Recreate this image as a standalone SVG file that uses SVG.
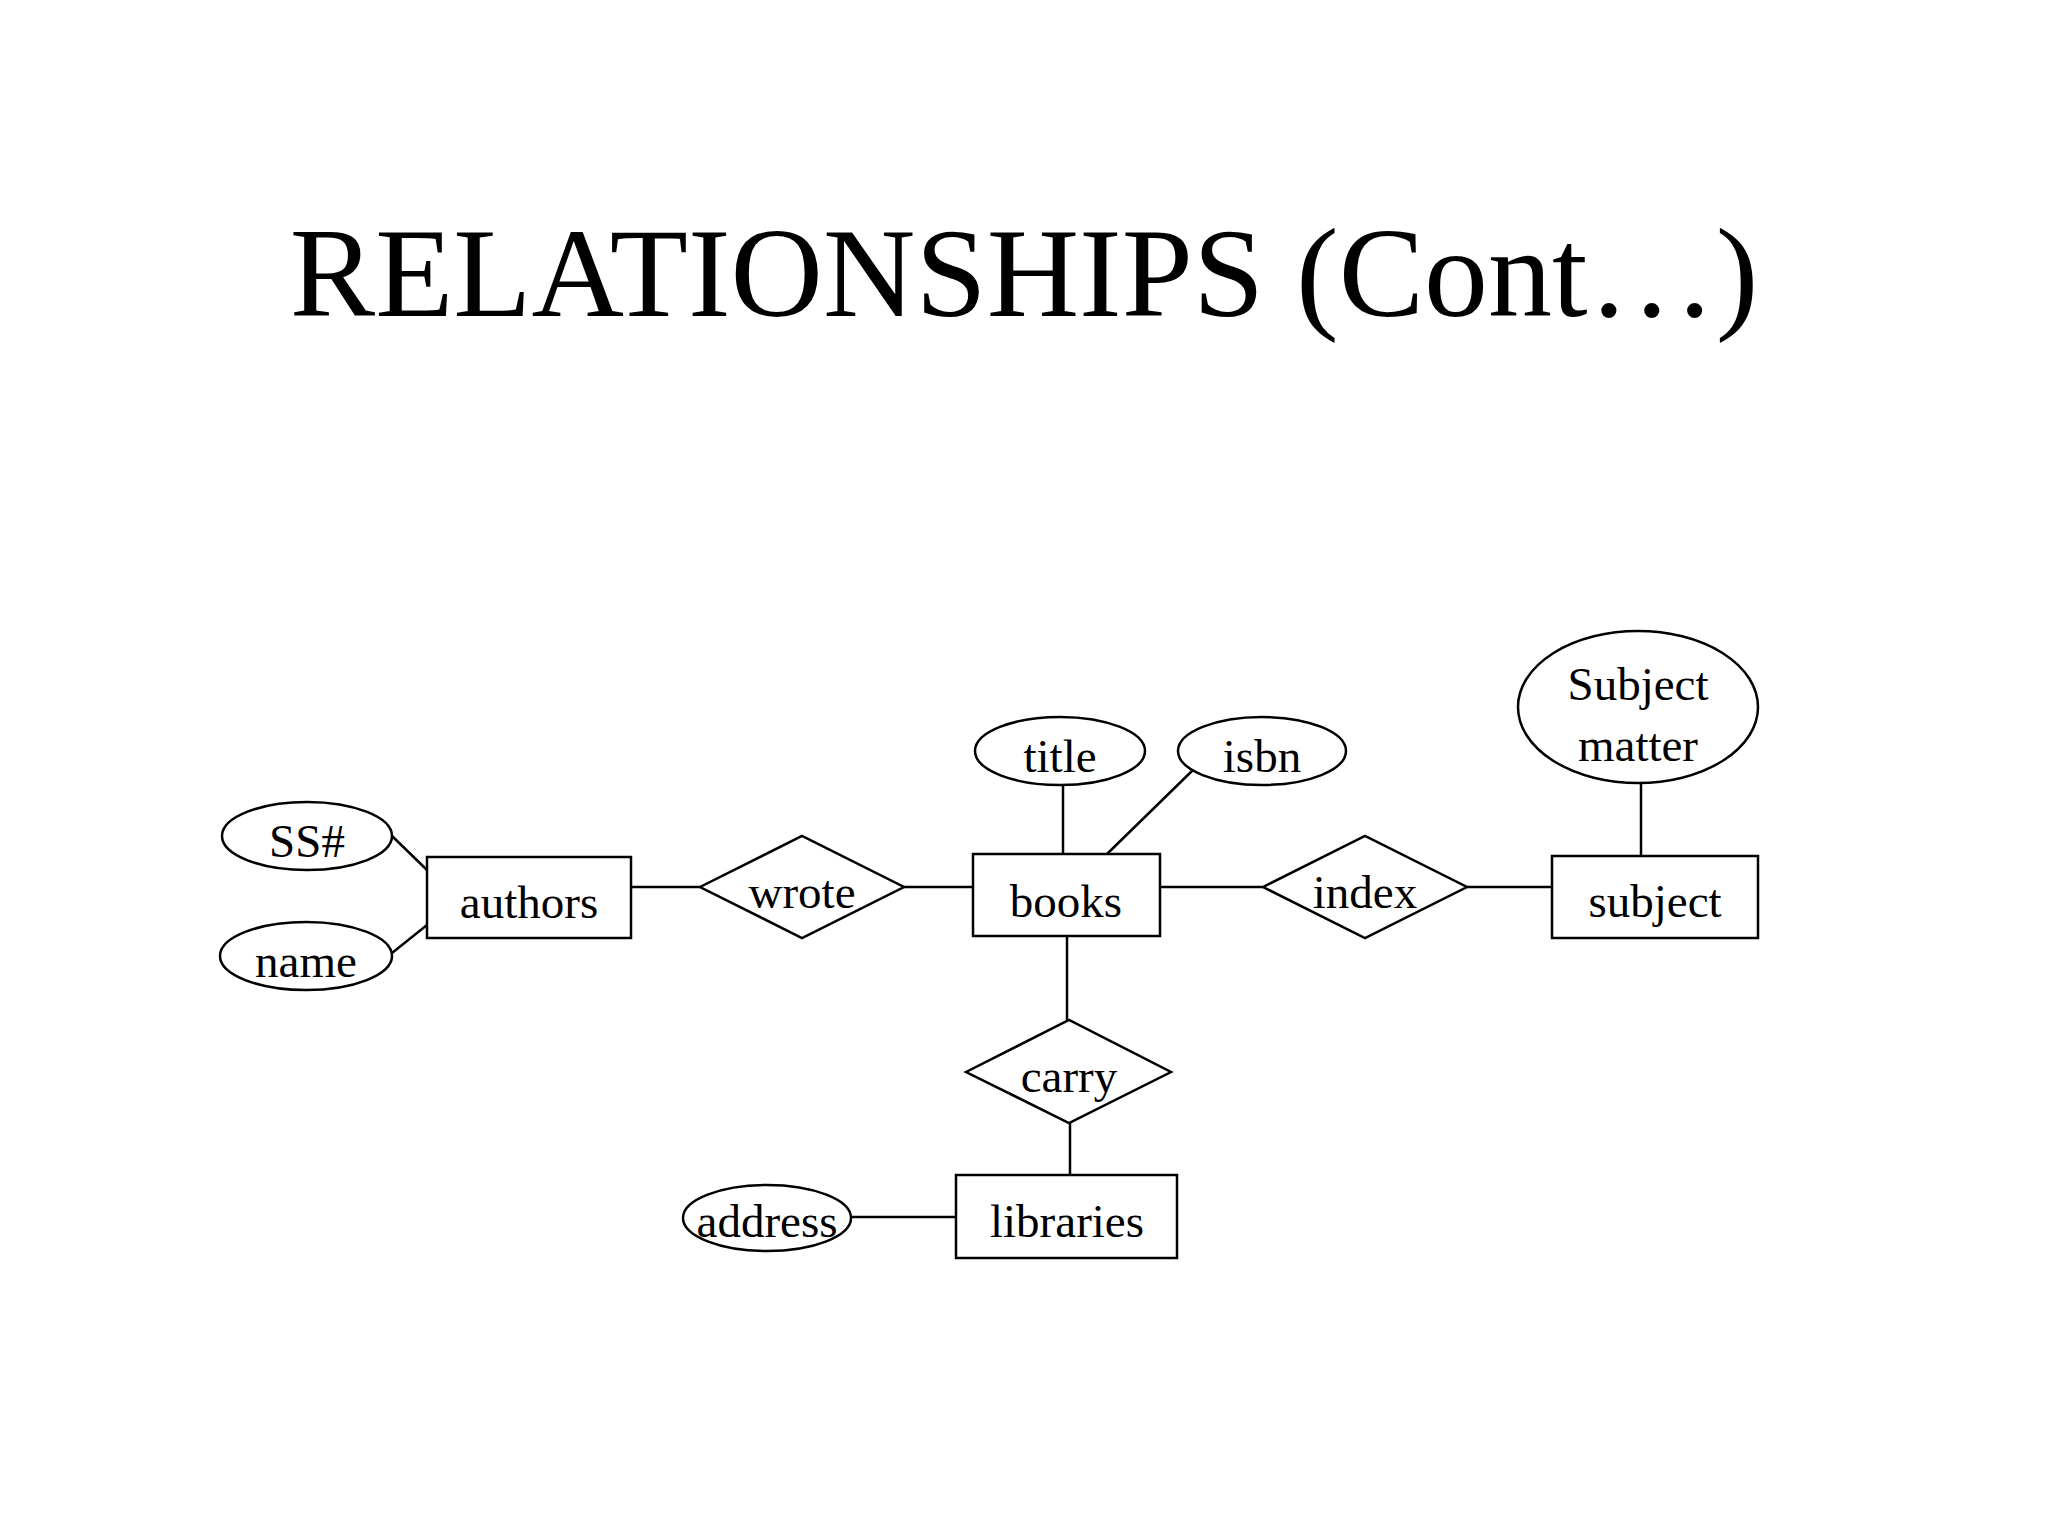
<svg xmlns="http://www.w3.org/2000/svg" width="2048" height="1536" viewBox="0 0 2048 1536">
<style>
.s{fill:#fff;stroke:#000;stroke-width:2.5}
.l{stroke:#000;stroke-width:2.5;fill:none}
text{font-family:"Liberation Serif","Times New Roman",serif;font-size:47px;text-anchor:middle;fill:#000}
</style>
<rect width="2048" height="1536" fill="#fff"/>
<text x="1024" y="316" style="font-size:128px">RELATIONSHIPS (Cont…)</text>
<g id="connectors">
<line class="l" x1="392" y1="836" x2="427" y2="870"/>
<line class="l" x1="392" y1="953" x2="427" y2="925"/>
<line class="l" x1="631" y1="887" x2="700" y2="887"/>
<line class="l" x1="904" y1="887" x2="973" y2="887"/>
<line class="l" x1="1160" y1="887" x2="1263" y2="887"/>
<line class="l" x1="1467" y1="887" x2="1552" y2="887"/>
<line class="l" x1="1641" y1="784" x2="1641" y2="856"/>
<line class="l" x1="1063" y1="785" x2="1063" y2="854"/>
<line class="l" x1="1194" y1="769" x2="1107" y2="854"/>
<line class="l" x1="1067" y1="936" x2="1067" y2="1020"/>
<line class="l" x1="1070" y1="1123" x2="1070" y2="1175"/>
<line class="l" x1="851" y1="1217" x2="956" y2="1217"/>
</g>
<g id="ss"><ellipse class="s" cx="307" cy="836" rx="85" ry="34"/><text x="307" y="857">SS#</text></g>
<g id="name"><ellipse class="s" cx="306" cy="956" rx="86" ry="34"/><text x="306" y="977">name</text></g>
<g id="authors"><rect class="s" x="427" y="857" width="204" height="81"/><text x="529" y="918">authors</text></g>
<g id="wrote"><polygon class="s" points="700,887 802,836 904,887 802,938"/><text x="802" y="908">wrote</text></g>
<g id="books"><rect class="s" x="973" y="854" width="187" height="82"/><text x="1066" y="917">books</text></g>
<g id="title"><ellipse class="s" cx="1060" cy="751" rx="85" ry="34"/><text x="1060" y="772">title</text></g>
<g id="isbn"><ellipse class="s" cx="1262" cy="751" rx="84" ry="34"/><text x="1262" y="772">isbn</text></g>
<g id="index"><polygon class="s" points="1263,887 1365,836 1467,887 1365,938"/><text x="1365" y="908">index</text></g>
<g id="subject"><rect class="s" x="1552" y="856" width="206" height="82"/><text x="1655" y="917">subject</text></g>
<g id="subjectmatter"><ellipse class="s" cx="1638" cy="707" rx="120" ry="76"/><text x="1638" y="700">Subject</text><text x="1638" y="761">matter</text></g>
<g id="carry"><polygon class="s" points="966,1072 1069,1020 1171,1072 1069,1123"/><text x="1069" y="1092">carry</text></g>
<g id="libraries"><rect class="s" x="956" y="1175" width="221" height="83"/><text x="1067" y="1237">libraries</text></g>
<g id="address"><ellipse class="s" cx="767" cy="1218" rx="84" ry="33"/><text x="767" y="1237">address</text></g>
</svg>
